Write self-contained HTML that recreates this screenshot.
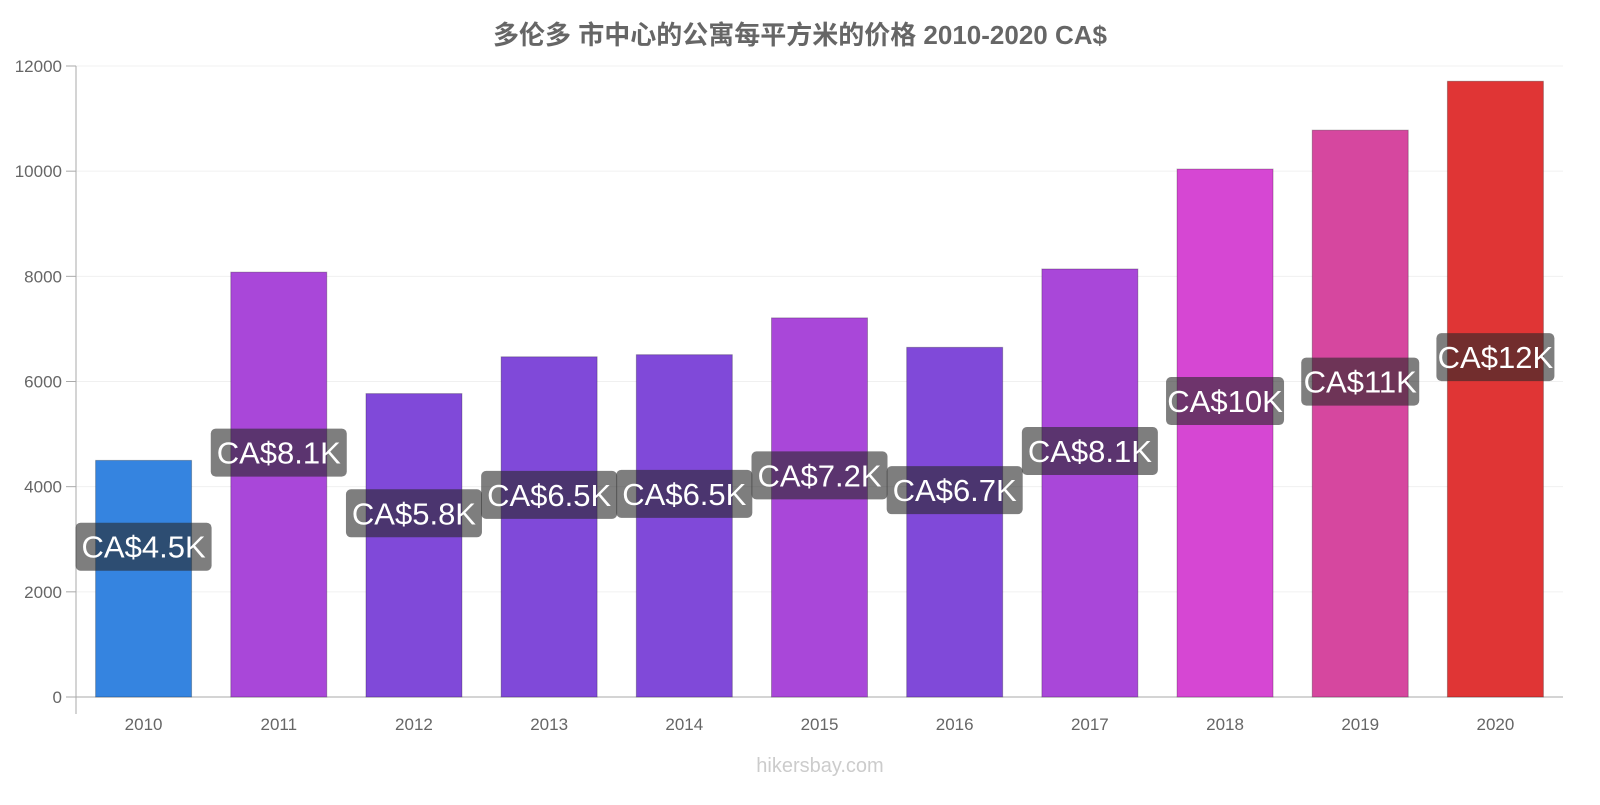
<!DOCTYPE html>
<html><head><meta charset="utf-8">
<style>
html,body{margin:0;padding:0;background:#fff;}
body{width:1600px;height:800px;overflow:hidden;font-family:"Liberation Sans","Noto Sans CJK SC",sans-serif;}
</style></head>
<body>
<svg id="chart" width="1600" height="800" xmlns="http://www.w3.org/2000/svg" font-family="Liberation Sans, Noto Sans CJK SC, sans-serif">
<text x="800" y="44" text-anchor="middle" font-size="26" font-weight="bold" fill="#666">多伦多 市中心的公寓每平方米的价格 2010-2020 CA$</text>
<text x="820" y="772" text-anchor="middle" font-size="20" fill="#ccc">hikersbay.com</text>
<g id="grid"></g><g id="bars"></g><g id="labels"></g>
</svg>
<script>
const categories=["2010","2011","2012","2013","2014","2015","2016","2017","2018","2019","2020"];
const values=[4500,8080,5770,6470,6510,7210,6650,8140,10040,10780,11710];
const valueLabels=["CA$4.5K","CA$8.1K","CA$5.8K","CA$6.5K","CA$6.5K","CA$7.2K","CA$6.7K","CA$8.1K","CA$10K","CA$11K","CA$12K"];
const colors=["#3584e0","#a947d9","#8049d9","#8049d9","#8049d9","#a947d9","#8049d9","#a947d9","#d647d3","#d6479f","#e03535"];
const yTicks=[0,2000,4000,6000,8000,10000,12000];
const NS="http://www.w3.org/2000/svg";
const x0=76,x1=1563,yb=697,yt=66,ymax=12000;
const yS=v=>yb-(v/ymax)*(yb-yt);
const step=(x1-x0)/categories.length;
const xC=i=>x0+step*(i+0.5);
function mk(tag,attrs,parent){const e=document.createElementNS(NS,tag);for(const k in attrs)e.setAttribute(k,attrs[k]);parent.appendChild(e);return e;}
const grid=document.getElementById('grid'),bars=document.getElementById('bars'),labels=document.getElementById('labels');
yTicks.forEach(t=>{
  const y=yS(t);
  const l=mk('line',{x1:x0,x2:x1,y1:y,y2:y,stroke:t===0?'#aaa':'#f0f0f0','stroke-width':1},grid);
  
  
  const tk=mk('line',{x1:x0-10,x2:x0,y1:y,y2:y,stroke:'#aaa'},grid);
  
  
  const tx=mk('text',{x:x0-14,y:y+6,'text-anchor':'end','font-size':17,fill:'#666'},grid);
  tx.textContent=t;
  
  
});
const ax=mk('line',{x1:x0,x2:x0,y1:yt,y2:yb+17,stroke:'#aaa'},grid);


categories.forEach((c,i)=>{
  const cx=xC(i),w=96,top=yS(values[i]);
  const r=mk('rect',{x:cx-w/2,y:top,width:w,height:yb-top,fill:colors[i],stroke:'rgba(0,0,0,0.25)','stroke-width':1},bars);
  
  
  const tx=mk('text',{x:cx,y:730,'text-anchor':'middle','font-size':17,fill:'#666'},grid);
  tx.textContent=c;
  
  
  const ly=(top+yb)/2-32;
  const lw=valueLabels[i].length*18+10;
  const b=mk('rect',{x:cx-lw/2,y:ly-24,width:lw,height:48,rx:5,fill:'rgba(40,40,40,0.6)'},labels);
  
  
  const lt=mk('text',{x:cx,y:ly+11,'text-anchor':'middle','font-size':31,fill:'#fff'},labels);
  lt.textContent=valueLabels[i];
  
  
});
</script>
</body></html>
